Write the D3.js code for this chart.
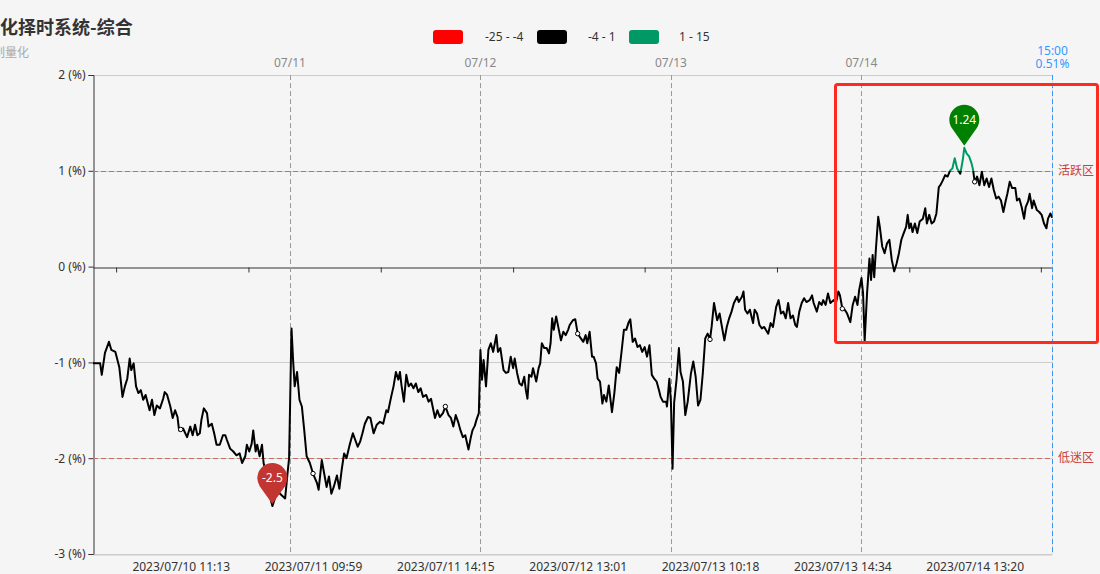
<!DOCTYPE html>
<html><head><meta charset="utf-8">
<script src="https://cdn.jsdelivr.net/npm/d3@7"></script>
<style>
body{margin:0;background:#f5f5f5;}
svg{display:block;font-family:"Noto Sans","Noto Sans CJK SC",sans-serif;}
</style>
</head><body>
<svg id="c" width="1100" height="574"></svg>
<script>
// ---------- data ----------
const titleText = "量化择时系统-综合";
const subtitleText = "制量化";

// sample position (minute index along the category axis) and value (%)
const pointIdx = [
0,9,11,15,20,23,28,33,37,40,43,46,48,51,54,57,60,63,66,71,74,77,80,84,88,90,93,97,100,103,106,108,110,113,118,122,125,128,131,134,136,139,143,145,149,152,155,159,163,166,168,172,176,180,184,187,191,193,196,199,201,204,206,209,212,214,218,222,225,229,232,237,241,244,246,
249,251,253,256,259,262,265,268,272,276,281,283,287,290,293,296,299,302,306,309,312,315,318,322,326,329,332,335,338,341,345,348,352,356,360,364,368,370,374,377,380,383,385,387,390,393,396,399,402,405,408,411,414,418,421,424,427,429,432,435,439,442,446,449,452,455,458,461,464,467,471,474,476,479,481,484,
486,488,490,493,496,499,502,506,508,511,515,518,521,524,527,529,532,535,538,541,543,545,547,550,552,556,559,561,563,566,569,572,574,576,578,581,584,587,590,593,596,598,602,605,608,612,615,618,620,623,626,628,631,633,636,639,641,644,647,651,654,657,660,663,666,669,672,674,677,680,683,686,689,692,695,698,701,704,707,710,712,715,719,720,723,
725,727,729,732,735,737,740,743,746,750,753,756,759,762,765,768,771,774,776,779,783,786,789,792,795,798,801,804,808,810,814,816,818,821,824,828,830,833,836,839,842,844,847,850,853,857,860,863,866,869,872,875,878,881,883,886,889,892,895,899,902,904,908,911,914,916,919,922,925,929,932,935,937,940,943,946,950,953,956,959,961,
964,966,968,971,974,976,978,980,982,985,987,990,993,996,999,1002,1005,1008,1011,1014,1017,1020,1022,1024,1026,1028,1031,1034,1037,1041,1044,1046,1049,1052,1055,1058,1061,1063,1066,1069,1072,1075,1078,1081,1084,1088,1091,1093,1096,1099,1102,1104,1106,1109,1112,1115,1118,1121,1124,1127,1130,1133,1136,1139,1142,1145,1147,1150,1153,1157,1159,1162,1165,1168,1170,1173,1175,1178,1180,1184,1187,1190,1193,1196,1198,1201,1203
];
const pointValue = [
-1.01,-1.01,-1.13,-0.90,-0.785,-0.87,-0.89,-1.05,-1.36,-1.25,-1.17,-0.96,-1.08,-1.01,-1.25,-1.32,-1.29,-1.39,-1.34,-1.50,-1.39,-1.55,-1.45,-1.48,-1.38,-1.31,-1.34,-1.46,-1.58,-1.50,-1.57,-1.71,-1.70,-1.69,-1.78,-1.67,-1.76,-1.65,-1.76,-1.74,-1.60,-1.48,-1.53,-1.67,-1.64,-1.74,-1.86,-1.86,-1.76,-1.76,-1.81,-1.90,-1.93,-1.97,-1.95,-2.05,-1.98,-1.86,-1.93,-1.85,-1.71,-1.93,-1.86,-1.98,-1.86,-2.05,-2.19,-2.40,-2.50,-2.40,-2.35,-2.39,-2.42,-2.16,-2.00,
-0.645,-0.976,-1.25,-1.10,-1.39,-1.46,-1.71,-1.98,-2.05,-2.16,-2.26,-2.33,-2.02,-2.16,-2.30,-2.19,-2.37,-2.30,-2.18,-2.32,-2.12,-1.95,-2.00,-1.86,-1.74,-1.81,-1.88,-1.83,-1.74,-1.64,-1.57,-1.58,-1.74,-1.65,-1.62,-1.64,-1.50,-1.52,-1.36,-1.25,-1.10,-1.18,-1.10,-1.24,-1.41,-1.13,-1.25,-1.22,-1.27,-1.22,-1.31,-1.27,-1.36,-1.34,-1.41,-1.38,-1.50,-1.58,-1.50,-1.57,-1.53,-1.46,-1.55,-1.58,-1.67,-1.55,-1.62,-1.71,-1.78,-1.76,-1.91,-1.78,-1.71,-1.66,-1.60,-1.53,
-0.87,-1.18,-0.976,-1.25,-0.87,-0.80,-0.89,-0.715,-0.89,-0.85,-1.08,-1.11,-1.10,-0.94,-1.06,-0.96,-1.11,-1.22,-1.24,-1.15,-1.29,-1.38,-1.13,-1.15,-1.06,-1.20,-1.06,-1.01,-0.80,-0.85,-0.85,-0.906,-0.80,-0.54,-0.66,-0.52,-0.645,-0.77,-0.68,-0.715,-0.66,-0.61,-0.56,-0.55,-0.70,-0.75,-0.785,-0.715,-0.80,-0.68,-0.94,-0.94,-1.01,-1.17,-1.20,-1.43,-1.34,-1.41,-1.24,-1.52,-1.32,-1.05,-1.11,-0.89,-0.66,-0.66,-0.58,-0.55,-0.785,-0.75,-0.84,-0.82,-0.89,-0.84,-0.94,-0.82,-1.13,-1.17,-1.20,-1.29,-1.36,-1.41,-1.41,-1.46,-1.17,
-1.42,-2.11,-1.42,-1.18,-0.85,-1.10,-1.20,-1.55,-1.41,-1.12,-0.99,-1.15,-1.45,-1.39,-1.11,-0.75,-0.70,-0.76,-0.63,-0.38,-0.56,-0.49,-0.63,-0.77,-0.63,-0.54,-0.47,-0.38,-0.315,-0.37,-0.315,-0.26,-0.45,-0.49,-0.45,-0.59,-0.45,-0.49,-0.61,-0.645,-0.63,-0.66,-0.70,-0.59,-0.63,-0.42,-0.35,-0.49,-0.47,-0.54,-0.38,-0.54,-0.51,-0.61,-0.63,-0.47,-0.38,-0.33,-0.37,-0.35,-0.30,-0.38,-0.47,-0.37,-0.40,-0.35,-0.40,-0.28,-0.38,-0.35,-0.38,-0.26,-0.30,-0.44,-0.45,-0.49,-0.58,-0.40,-0.315,-0.40,-0.25,
-0.12,-0.28,-0.78,-0.28,0.085,-0.14,0.12,-0.11,0.17,0.52,0.415,0.21,0.14,0.24,0.28,0.07,-0.05,0.03,0.14,0.28,0.35,0.415,0.54,0.40,0.45,0.36,0.45,0.35,0.47,0.50,0.61,0.45,0.54,0.45,0.47,0.555,0.83,0.85,0.90,0.955,0.94,1.00,1.025,1.13,1.025,0.97,1.11,1.24,1.18,1.15,1.08,1.01,0.885,0.94,0.85,0.99,0.85,0.92,0.83,0.92,0.80,0.71,0.73,0.69,0.57,0.69,0.76,0.885,0.82,0.82,0.69,0.71,0.62,0.50,0.62,0.68,0.76,0.61,0.69,0.59,0.57,0.54,0.45,0.40,0.50,0.555,0.51
];

const xDomain = [0, 1203];
const yDomain = [-3, 2];
const yTicks = [2, 1, 0, -1, -2, -3];

const bottomLabels = ["2023/07/10 11:13","2023/07/11 09:59","2023/07/11 14:15","2023/07/12 13:01","2023/07/13 10:18","2023/07/13 14:34","2023/07/14 13:20"];
const bottomLabelIdx = [110, 276, 442, 608, 774, 940, 1106];
const zeroAxisTickIdx = [29, 195, 361, 527, 692, 858, 1024, 1189];

const dayLabels = ["07/11","07/12","07/13","07/14"];
const dayIdx = [247, 486, 725, 964];

const lastTimeLabel = "15:00";
const lastValueLabel = "0.51%";

const pieceMin = [-25, -4, 1];
const pieceMax = [-4, 1, 15];
const pieceColor = ["#ff0000", "#000000", "#009966"];
const pieceLabel = ["-25 - -4", "-4 - 1", "1 - 15"];

const zoneValue = [1, -2];
const zoneLabel = ["活跃区", "低迷区"];

// ---------- drawing ----------
const W = 1100, H = 574;
const x = d3.scaleLinear().domain(xDomain).range([93, 1052]);
const y = d3.scaleLinear().domain(yDomain).range([554, 75]);
const crisp = v => Math.round(v) + 0.5;
const svg = d3.select("#c");
svg.append("rect").attr("width", W).attr("height", H).attr("fill", "#f5f5f5");

// title
svg.append("text").attr("x", -18).attr("y", 34).attr("font-size", 18).attr("font-weight", "bold")
  .attr("fill", "#333").attr("font-family", "'Noto Sans CJK SC',sans-serif").text(titleText);
svg.append("text").attr("x", -7).attr("y", 57).attr("font-size", 12)
  .attr("fill", "#aaa").attr("font-family", "'Noto Sans CJK SC',sans-serif").text(subtitleText);

// legend
const lg = svg.append("g");
const legX = [433, 537, 629];
const legTX = [485, 588, 679];
pieceLabel.forEach((t, i) => {
  lg.append("rect").attr("x", legX[i]).attr("y", 30).attr("width", 30).attr("height", 14).attr("rx", 3)
    .attr("fill", pieceColor[i]);
  lg.append("text").attr("x", legTX[i]).attr("y", 41).attr("font-size", 12).attr("fill", "#333").text(t);
});

// grid lines
svg.append("g").selectAll("line").data(yTicks.filter(d => d !== 0)).join("line")
  .attr("x1", 93).attr("x2", 1052).attr("y1", d => crisp(y(d))).attr("y2", d => crisp(y(d)))
  .attr("stroke", "#ccc");

// y axis
const yAxis = d3.axisLeft(y).tickValues(yTicks).tickFormat(d => d + " (%)").tickSize(5).tickPadding(3);
const yg = svg.append("g").attr("transform", "translate(93.5,0)").call(yAxis);
yg.select(".domain").attr("stroke", "#333");
yg.selectAll(".tick line").attr("stroke", "#333");
yg.selectAll(".tick text").attr("fill", "#333").attr("font-size", 12).attr("font-family", "'Noto Sans',sans-serif");

// bottom axis (labels only)
const bAxis = d3.axisBottom(x).tickValues(bottomLabelIdx).tickFormat((d, i) => bottomLabels[i]).tickSize(0).tickPadding(8);
const bg = svg.append("g").attr("transform", "translate(0,554.5)").call(bAxis);
bg.select(".domain").attr("stroke", "#ccc");
bg.selectAll(".tick text").attr("fill", "#333").attr("font-size", 12).attr("font-family", "'Noto Sans',sans-serif");

// zero axis line
const zAxis = d3.axisBottom(x).tickValues(zeroAxisTickIdx).tickFormat("").tickSize(5).tickSizeOuter(0);
const zg = svg.append("g").attr("transform", `translate(0,${crisp(y(0))})`).call(zAxis);
zg.select(".domain").attr("stroke", "#333");
zg.selectAll(".tick line").attr("stroke", "#333");

// zone lines
zoneValue.forEach((v, i) => {
  svg.append("line").attr("x1", 93).attr("x2", 1052).attr("y1", crisp(y(v))).attr("y2", crisp(y(v)))
    .attr("stroke", "#d06a68").attr("stroke-dasharray", "5,3");
  svg.append("text").attr("x", 1058).attr("y", y(v) + 4).attr("font-size", 12).attr("fill", "#c9403d")
    .attr("font-family", "'Noto Sans CJK SC',sans-serif").text(zoneLabel[i]);
});

// day lines
dayIdx.forEach((d, i) => {
  svg.append("line").attr("x1", crisp(x(d))).attr("x2", crisp(x(d))).attr("y1", 75).attr("y2", 554)
    .attr("stroke", "#999").attr("stroke-dasharray", "5,3");
  svg.append("text").attr("x", x(d)).attr("y", 67).attr("text-anchor", "middle").attr("font-size", 12)
    .attr("fill", "#888").text(dayLabels[i]);
});

// last line
const xl = crisp(x(xDomain[1]));
svg.append("line").attr("x1", xl).attr("x2", xl).attr("y1", 75).attr("y2", 554).attr("stroke", "#ddd");
svg.append("line").attr("x1", xl).attr("x2", xl).attr("y1", 75).attr("y2", 554)
  .attr("stroke", "#3399ff").attr("stroke-dasharray", "5,3");
svg.append("text").attr("x", xl).attr("y", 55).attr("text-anchor", "middle").attr("font-size", 12).attr("fill", "#3399ff").text(lastTimeLabel);
svg.append("text").attr("x", xl).attr("y", 68).attr("text-anchor", "middle").attr("font-size", 12).attr("fill", "#3399ff").text(lastValueLabel);

// visual map gradient
const defs = svg.append("defs");
const gy1 = y(pieceMax[2]), gy2 = y(pieceMin[0]);
const grad = defs.append("linearGradient").attr("id", "vm").attr("gradientUnits", "userSpaceOnUse")
  .attr("x1", 0).attr("x2", 0).attr("y1", gy1).attr("y2", gy2);
const off = v => (y(v) - gy1) / (gy2 - gy1);
for (let i = 2; i >= 0; i--) {
  grad.append("stop").attr("offset", off(pieceMax[i])).attr("stop-color", pieceColor[i]);
  grad.append("stop").attr("offset", off(pieceMin[i])).attr("stop-color", pieceColor[i]);
}
const colorOf = v => { for (let i = 0; i < 3; i++) if (v >= pieceMin[i] && v <= pieceMax[i]) return pieceColor[i]; return "#000"; };

const pts = pointIdx.map((d, i) => [d, pointValue[i]]);
const line = d3.line().x(d => x(d[0])).y(d => y(d[1]));
svg.append("path").datum(pts).attr("d", line).attr("fill", "none").attr("stroke", "url(#vm)")
  .attr("stroke-width", 2).attr("stroke-linejoin", "round");

// symbols at label positions
const symPts = pts.filter(p => bottomLabelIdx.includes(p[0]));
svg.append("g").selectAll("circle").data(symPts).join("circle")
  .attr("cx", d => x(d[0])).attr("cy", d => y(d[1])).attr("r", 2.2)
  .attr("fill", "#fff").attr("stroke", d => colorOf(d[1])).attr("stroke-width", 1);

// pins
const pinPath = "M0,-2L-12.5,-19.7A15,15 0 1,1 12.5,-19.7Z";
function pin(p, color) {
  const g = svg.append("g").attr("transform", `translate(${x(p[0])},${y(p[1])})`);
  g.append("path").attr("d", pinPath).attr("fill", color);
  g.append("text").attr("x", 0).attr("y", -24).attr("text-anchor", "middle").attr("font-size", 12)
    .attr("fill", "#fff").text(String(+p[1].toFixed(2)));
}
const iMin = d3.minIndex(pointValue), iMax = d3.maxIndex(pointValue);
pin(pts[iMin], "#c23531");
pin(pts[iMax], "#008000");

// highlight box
svg.append("rect").attr("x", 835.5).attr("y", 84.5).attr("width", 262).attr("height", 258).attr("rx", 2)
  .attr("fill", "none").attr("stroke", "#ff2a1f").attr("stroke-width", 3);
</script>
</body></html>
